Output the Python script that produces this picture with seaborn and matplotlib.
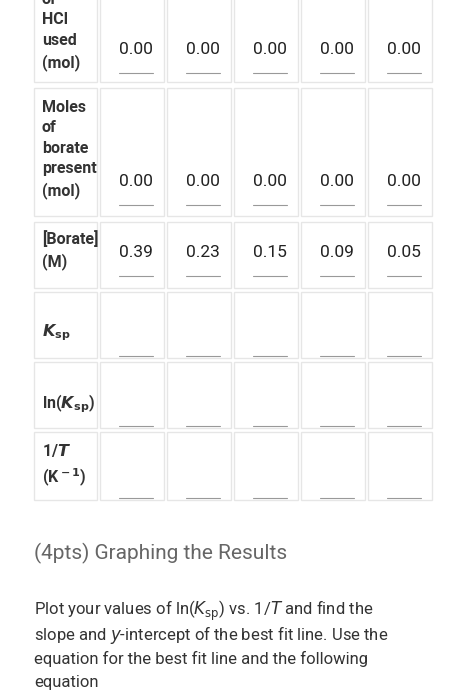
import matplotlib
matplotlib.use("Agg")
import matplotlib.pyplot as plt
import seaborn as sns

sns.set_style("white")
plt.rcParams['font.family'] = ['Roboto', 'DejaVu Sans']

row_labels = ["of\nHCl\nused\n(mol)",
              "Moles\nof\nborate\npresent\n(mol)",
              "[Borate]\n(M)",
              r"$\bfit{K}_{\bf sp}$",
              r"ln($\bfit{K}_{\bf sp}$)",
              "1/$\\bfit{T}$\n(K$^{\\bf -1}$)"]
row_values = [["0.00"] * 5,
              ["0.00"] * 5,
              ["0.39", "0.23", "0.15", "0.09", "0.05"],
              [""] * 5, [""] * 5, [""] * 5]
row_tops = [-20, 88, 222, 292, 362, 432]
row_bottoms = [82, 216, 288, 358, 428, 500]
label_tops = [-8, 100, 230, 322, 392, 442]
value_y = [57, 189, 260, 340, 410, 482]

col_left = [34, 100, 167, 234, 301, 368]
col_width = [63, 64, 64, 64, 64, 64]

fig = plt.figure(figsize=(4.75, 7), dpi=100)
ax = fig.add_axes([0, 0, 1, 1])
ax.set_xlim(0, 475)
ax.set_ylim(700, 0)
ax.axis("off")

for r, lab in enumerate(row_labels):
    top, bot = row_tops[r], row_bottoms[r]
    for c in range(6):
        ax.add_patch(plt.Rectangle((col_left[c], top), col_width[c], bot - top,
                                   fill=False, ec="#e6e6e6", lw=1))
    ax.text(42, label_tops[r], lab, va="top", ha="left", fontsize=11.5,
            fontweight="bold", color="#333333", linespacing=1.45)
    for c in range(5):
        cx = col_left[c + 1] + col_width[c + 1] / 2 + 4
        if row_values[r][c]:
            ax.text(cx, value_y[r], row_values[r][c], ha="center", va="bottom",
                    fontsize=12.5, color="#222222")
        ax.plot([cx - 17, cx + 17], [value_y[r] + 16, value_y[r] + 16],
                color="#999999", lw=0.8)

ax.text(34, 553, "(4pts) Graphing the Results", fontsize=15, color="#666666",
        va="center", ha="left")
para = ["Plot your values of ln($K_{\\rm sp}$) vs. 1/$T$ and find the",
        "slope and $y$-intercept of the best fit line. Use the",
        "equation for the best fit line and the following",
        "equation"]
for i, line in enumerate(para):
    ax.text(34, 611 + i * 24, line, fontsize=12, color="#333333",
            va="center", ha="left")

fig.savefig("out.png", dpi=100)
